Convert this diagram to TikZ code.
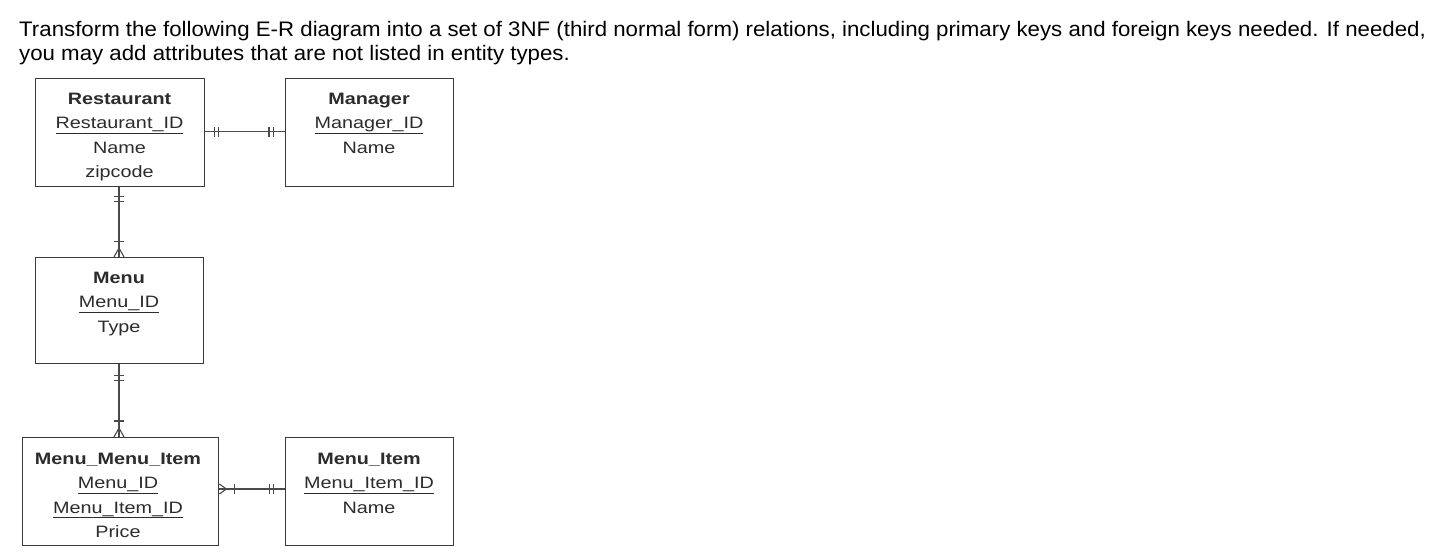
\documentclass[tikz,border=0pt]{standalone}
\usepackage{fontspec}
\setmainfont{Liberation Sans}
\newfontfamily\boxfont[FakeStretch=1.2]{Liberation Sans}
\newfontfamily\headfont[FakeStretch=1.06]{Liberation Sans}
\usetikzlibrary{decorations.markings}
\definecolor{boxline}{HTML}{3A3A3A}
\definecolor{connline}{HTML}{4A4A4A}
\definecolor{boxtext}{HTML}{2C2C2C}
\begin{document}
\begin{tikzpicture}[x=1pt,y=-1pt,
  entity/.style={draw=boxline,line width=1.4pt,fill=white,inner sep=0pt,anchor=north west},
  boxlabel/.style={anchor=base,inner sep=0pt,text=boxtext,font=\boxfont\fontsize{16.5}{20}\selectfont},
  headtext/.style={anchor=base west,inner sep=0pt,font=\headfont\fontsize{21}{25}\selectfont},
  conn/.style={draw=connline,line width=1.1pt},
  tick/.style={postaction={decorate,decoration={markings,mark=at position #1 with {\draw[connline,line width=1.1pt] (0pt,-5pt) -- (0pt,5pt);}}}},
  crowstart/.style={postaction={decorate,decoration={markings,mark=at position #1 with {\draw[connline,line width=1.1pt] (0pt,0pt) -- (-#1,-5pt) (0pt,0pt) -- (-#1,5pt);}}}},
  crowend/.style={postaction={decorate,decoration={markings,mark=at position -#1 with {\draw[connline,line width=1.1pt] (0pt,0pt) -- (#1,-5pt) (0pt,0pt) -- (#1,5pt);}}}}
]
\useasboundingbox (0,0) rectangle (1446,558);
\fill[white] (0,0) rectangle (1446,558);

\node[headtext] (h1) at (19,36) {Transform the following E-R diagram into a set of 3NF (third normal form) relations, including primary keys and foreign keys needed. If needed,};
\node[headtext] (h2) at (19,60) {you may add attributes that are not listed in entity types.};

% entity boxes
\node[entity,minimum width=169pt,minimum height=108pt] (rest) at (35,78) {};
\node[entity,minimum width=168pt,minimum height=108pt] (man) at (285,78) {};
\node[entity,minimum width=168pt,minimum height=106pt] (menu) at (35,257) {};
\node[entity,minimum width=196pt,minimum height=108pt] (mmi) at (22,437) {};
\node[entity,minimum width=168pt,minimum height=108pt] (mi) at (285,437) {};

% texts
\node[boxlabel] (restT) at (119.5,104) {\bfseries Restaurant};
\node[boxlabel] (restK) at (119.5,128.5) {\underline{Restaurant\_ID}};
\node[boxlabel] (restN) at (119.5,153) {Name};
\node[boxlabel] (restZ) at (119.5,177.5) {zipcode};

\node[boxlabel] (manT) at (369,104) {\bfseries Manager};
\node[boxlabel] (manK) at (369,128.5) {\underline{Manager\_ID}};
\node[boxlabel] (manN) at (369,153) {Name};

\node[boxlabel] (menuT) at (119,283) {\bfseries Menu};
\node[boxlabel] (menuK) at (119,307.5) {\underline{Menu\_ID}};
\node[boxlabel] (menuY) at (119,332) {Type};

\node[boxlabel] (mmiT) at (118,464) {\bfseries Menu\_Menu\_Item};
\node[boxlabel] (mmiK1) at (118,488.5) {\underline{Menu\_ID}};
\node[boxlabel] (mmiK2) at (118,513) {\underline{Menu\_Item\_ID}};
\node[boxlabel] (mmiP) at (118,537.5) {Price};

\node[boxlabel] (miT) at (369,464) {\bfseries Menu\_Item};
\node[boxlabel] (miK) at (369,488.5) {\underline{Menu\_Item\_ID}};
\node[boxlabel] (miN) at (369,513) {Name};

% connectors
\path[conn,tick=9.5pt,tick=13.5pt,tick=-11.5pt,tick=-16pt] ([yshift=1pt]rest.east) -- ([yshift=1pt]man.west);
\path[conn,tick=9pt,tick=14.5pt,tick=-15.5pt,crowend=9pt] (rest.south -| 119,0) -- (menu.north -| 119,0);
\path[conn,tick=11.5pt,tick=16.5pt,tick=-16pt,crowend=9pt] (menu.south -| 119,0) -- (mmi.north -| 119,0);
\path[conn,crowstart=7pt,tick=15pt,tick=-11.7pt,tick=-15.7pt] (mmi.east |- 0,489) -- (mi.west |- 0,489);
\end{tikzpicture}
\end{document}
